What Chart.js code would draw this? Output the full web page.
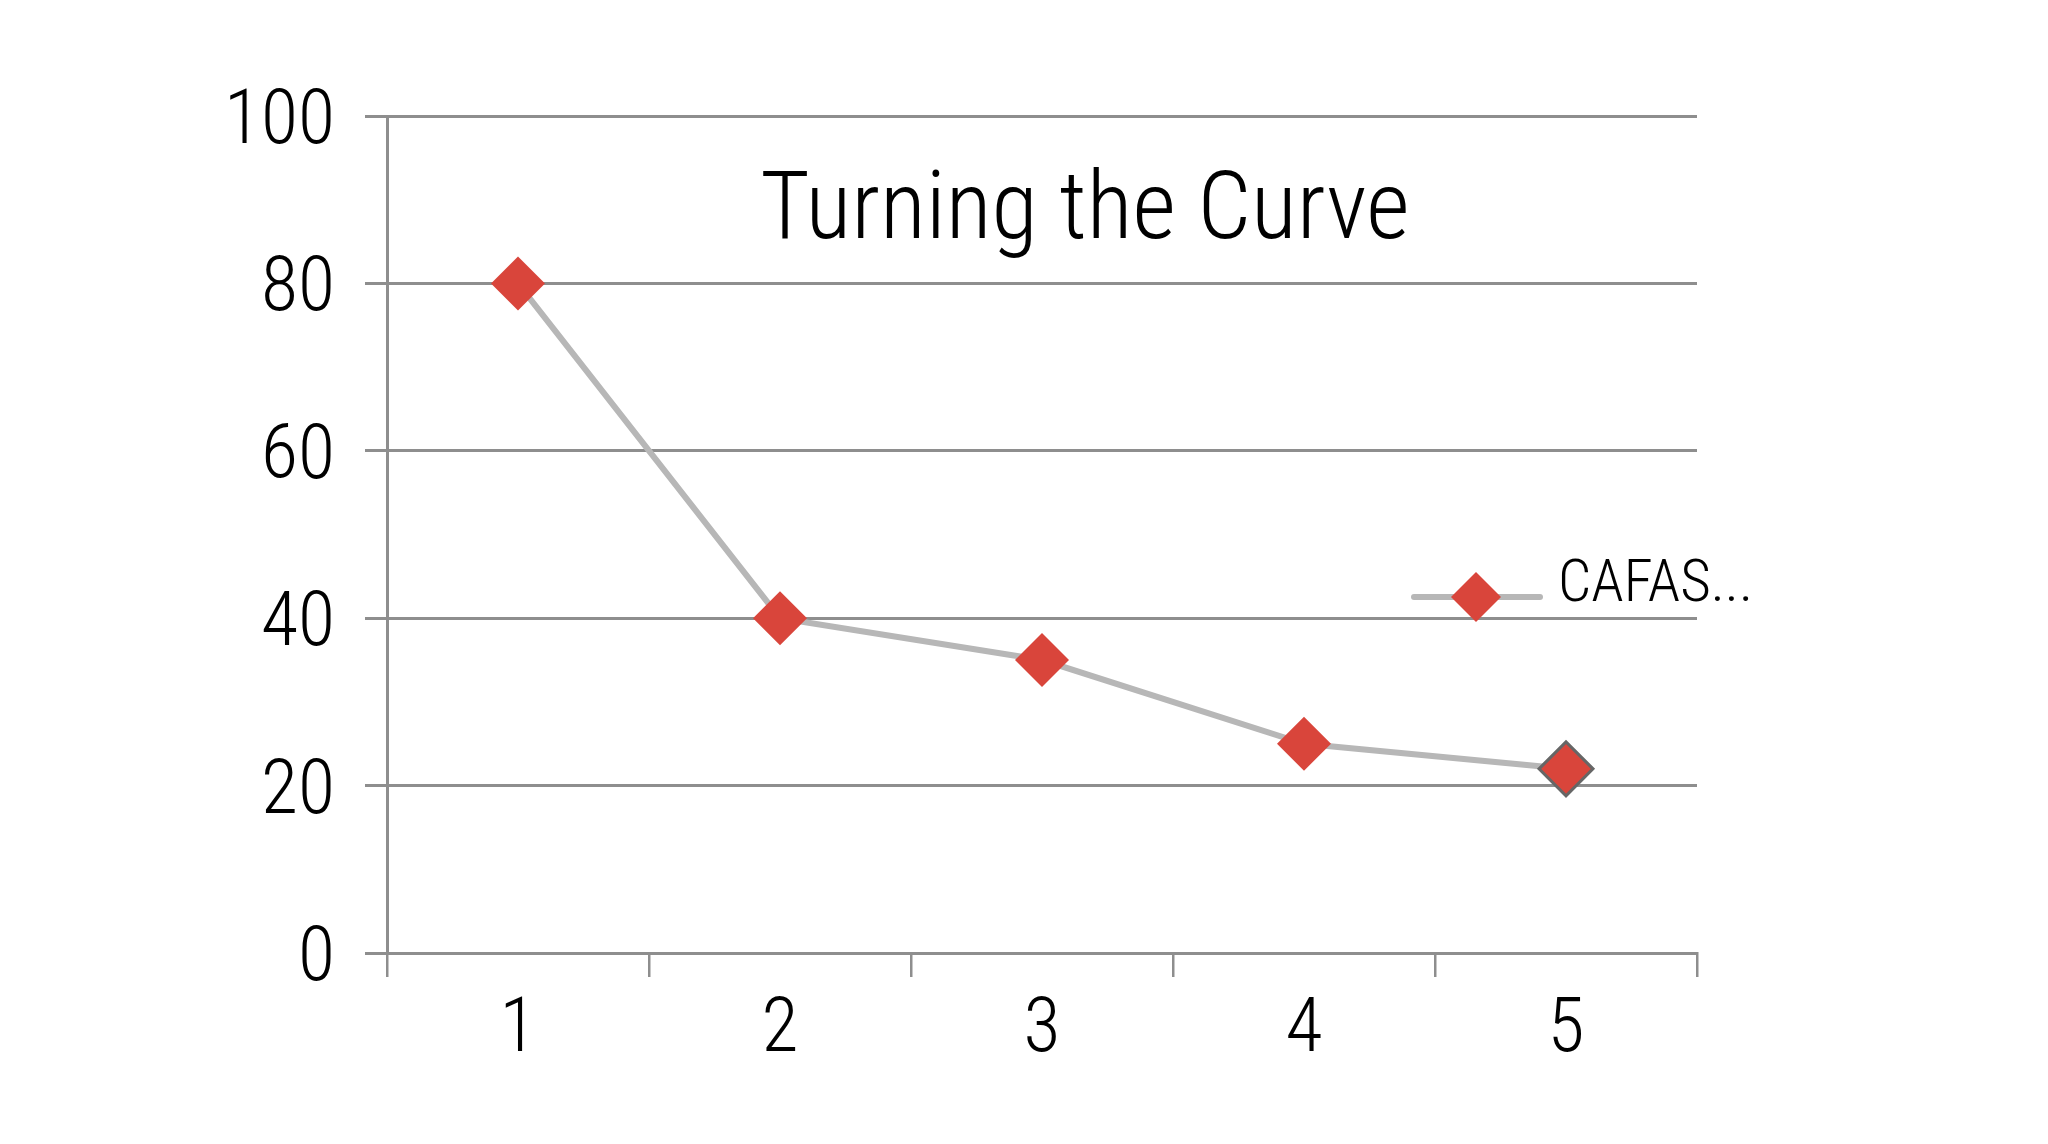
<!DOCTYPE html>
<html>
<head>
<meta charset="utf-8">
<script src="https://cdn.jsdelivr.net/npm/chart.js@4/dist/chart.umd.min.js"></script>
<style>
  html, body { margin: 0; padding: 0; background: #ffffff; }
  #wrap { width: 2048px; height: 1144px; }
</style>
</head>
<body>
<div id="wrap"><canvas id="c" width="2048" height="1144"></canvas></div>
<script>
const chartTitle = "Turning the Curve";
const seriesName = "CAFAS...";
const categories = ["1", "2", "3", "4", "5"];
const cafasValues = [80, 40, 35, 25, 22];
const yTicks = [0, 20, 40, 60, 80, 100];

const FONT = '"Roboto Condensed", "DejaVu Sans Condensed", sans-serif';
const RED = '#D9453B';
const LINE_GRAY = '#B7B7B7';
const AXIS_GRAY = '#8E8E8E';

const overlayPlugin = {
  id: 'overlay',
  afterDraw(chart) {
    const ctx = chart.ctx;
    const yScale = chart.scales.y;
    ctx.save();
    // Y tick labels (values from yTicks, positions from the scale)
    ctx.fillStyle = '#000';
    ctx.font = '300 76px ' + FONT;
    ctx.textAlign = 'right';
    ctx.textBaseline = 'alphabetic';
    yTicks.forEach(v => {
      const py = yScale.getPixelForValue(v);
      ctx.fillText(String(v), yScale.right - 22 - 30, py + 27);
    });

    // Title inside plot area
    ctx.font = '300 95px ' + FONT;
    ctx.textAlign = 'center';
    ctx.fillText(chartTitle, 1085, 238);

    // Legend
    const ly = 597;
    ctx.strokeStyle = LINE_GRAY;
    ctx.lineWidth = 6;
    ctx.lineCap = 'round';
    ctx.beginPath();
    ctx.moveTo(1414, ly);
    ctx.lineTo(1540, ly);
    ctx.stroke();
    const r = 25;
    const cx = 1476;
    ctx.fillStyle = RED;
    ctx.beginPath();
    ctx.moveTo(cx - r, ly);
    ctx.lineTo(cx, ly - r);
    ctx.lineTo(cx + r, ly);
    ctx.lineTo(cx, ly + r);
    ctx.closePath();
    ctx.fill();
    ctx.fillStyle = '#000';
    ctx.font = '300 59px ' + FONT;
    ctx.textAlign = 'left';
    ctx.fillText(seriesName, 1558, 601);
    ctx.restore();
  }
};

new Chart(document.getElementById('c'), {
  type: 'line',
  data: {
    labels: categories,
    datasets: [{
      label: seriesName,
      data: cafasValues,
      borderColor: LINE_GRAY,
      borderWidth: 6,
      tension: 0,
      fill: false,
      pointStyle: 'rectRot',
      pointRadius: 27,
      pointHoverRadius: 27,
      pointBackgroundColor: RED,
      pointBorderColor: ['rgba(0,0,0,0)', 'rgba(0,0,0,0)', 'rgba(0,0,0,0)', 'rgba(0,0,0,0)', '#666666'],
      pointBorderWidth: [0, 0, 0, 0, 3]
    }]
  },
  options: {
    responsive: false,
    animation: false,
    devicePixelRatio: 1,
    layout: { padding: { left: 0, right: 351, top: 116, bottom: 0 } },
    plugins: {
      legend: { display: false },
      title: { display: false },
      tooltip: { enabled: false }
    },
    scales: {
      x: {
        type: 'category',
        offset: true,
        grid: {
          offset: true,
          drawOnChartArea: false,
          drawTicks: true,
          tickLength: 24,
          color: AXIS_GRAY,
          lineWidth: 2.5
        },
        border: { display: true, color: AXIS_GRAY, width: 3 },
        ticks: {
          color: '#000',
          font: { family: FONT, size: 76, weight: '300' },
          padding: 9,
          maxRotation: 0
        },
        afterFit(scale) { scale.height = 191; }
      },
      y: {
        min: 0,
        max: 100,
        afterBuildTicks(scale) { scale.ticks = yTicks.map(v => ({ value: v })); },
        grid: {
          color: AXIS_GRAY,
          lineWidth: 3,
          drawTicks: true,
          tickLength: 22
        },
        border: { display: true, color: AXIS_GRAY, width: 3 },
        ticks: { display: false },
        afterFit(scale) { scale.width = 387; }
      }
    }
  },
  plugins: [overlayPlugin]
});
</script>
</body>
</html>
